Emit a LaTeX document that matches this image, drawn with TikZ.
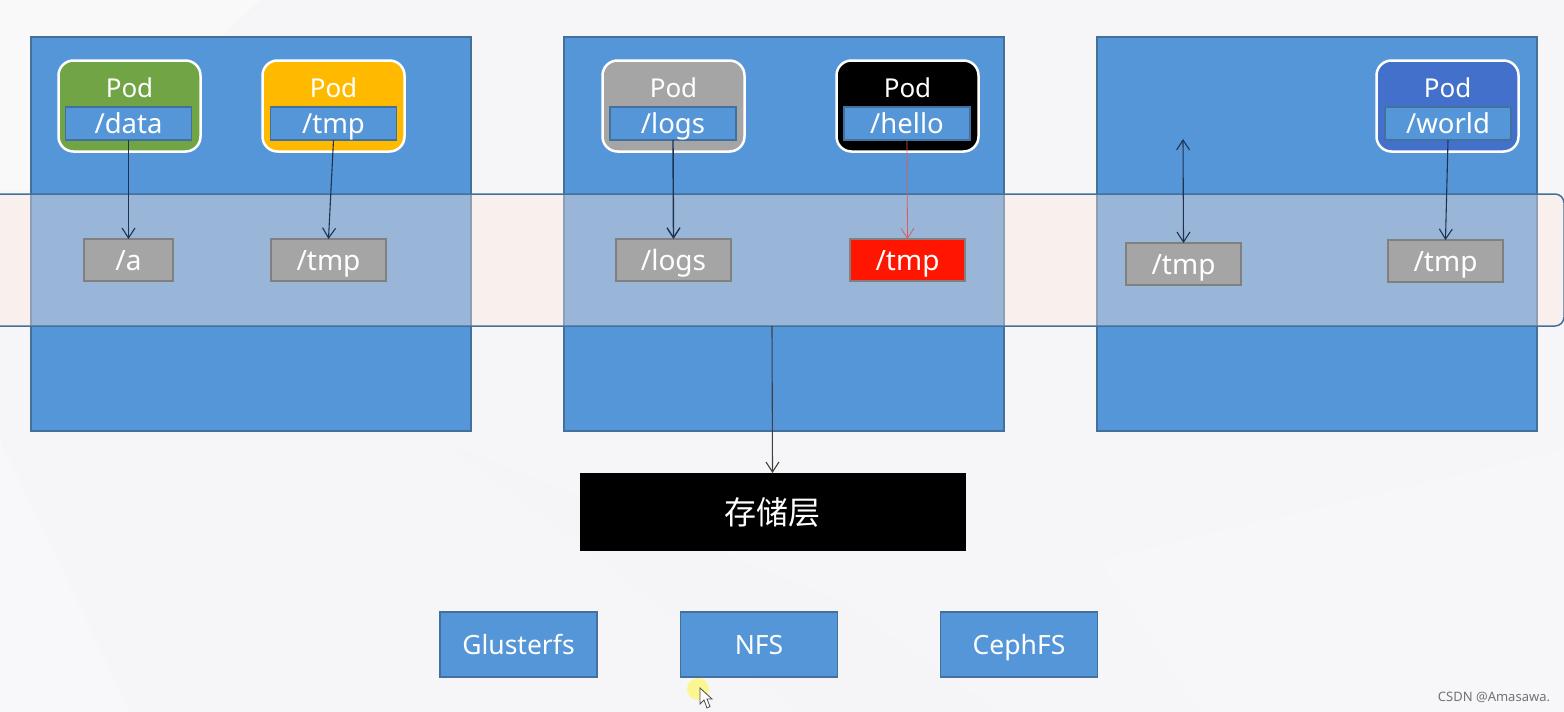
\documentclass[tikz,border=0pt]{standalone}
\usepackage{fontspec}
\setmainfont{Noto Sans}
\newfontfamily\cjk{Noto Sans CJK SC}
\usetikzlibrary{arrows.meta}
\definecolor{pagegray}{HTML}{F6F6F8}
\definecolor{hostblue}{HTML}{5596D8}
\definecolor{edgeblue}{HTML}{41719C}
\definecolor{bandtint}{HTML}{FFE6DA}
\definecolor{volgray}{HTML}{A5A5A5}
\definecolor{volred}{HTML}{FF1500}
\definecolor{podgreen}{HTML}{70A444}
\definecolor{podyellow}{HTML}{FFBA00}
\definecolor{podblue}{HTML}{4270CB}
\definecolor{linkdark}{HTML}{1F3350}
\definecolor{linkred}{HTML}{D9605A}
\begin{document}
\begin{tikzpicture}[x=1pt,y=-1pt,
  every node/.style = {inner sep=0pt, outer sep=0pt, align=center, text=white,
    font=\fontsize{26}{29}\selectfont},
  hostbox/.style = {draw=edgeblue, line width=1.5pt, fill=hostblue,
    minimum width=440pt, minimum height=394pt},
  bandbox/.style = {draw=edgeblue, line width=1.5pt, fill=bandtint, fill opacity=.4,
    draw opacity=1, rounded corners=9pt, minimum width=1584pt, minimum height=132pt},
  podbox/.style = {draw=white, line width=2.5pt, rounded corners=15pt,
    minimum width=142pt, minimum height=91pt},
  mountbox/.style = {draw=edgeblue, line width=1.5pt, fill=hostblue,
    minimum width=126pt, minimum height=33pt, text height=24pt, text depth=4pt,
    font=\fontsize{27.5}{30}\selectfont},
  volbox/.style = {draw=black!50, line width=1.5pt, fill=volgray,
    minimum width=115pt, minimum height=42pt, text height=24pt, text depth=4pt,
    font=\fontsize{28}{30}\selectfont},
  fsbox/.style = {draw=edgeblue, line width=1.5pt, fill=hostblue,
    minimum width=157pt, minimum height=65pt, text height=24pt, text depth=5pt,
    font=\fontsize{26.5}{29}\selectfont},
  link/.style = {draw=linkdark, line width=1.1pt, -{Straight Barb[length=10pt,width=13pt]}},
  ]
  \clip (0,0) rectangle (1564,712);
  \fill[pagegray] (0,0) rectangle (1564,712);
  % faint backdrop facets
  \fill[white,opacity=.4] (0,0) -- (260,0) -- (60,190) -- (0,190) -- cycle;
  \fill[black,opacity=.005] (440,440) -- (800,712) -- (1000,712) -- (840,600) -- cycle;
  \fill[white,opacity=.3] (0,440) -- (130,712) -- (0,712) -- cycle;
  \fill[white,opacity=.2] (1100,560) -- (1564,450) -- (1564,712) -- (1200,712) -- cycle;

  % hosts
  \node[hostbox] (hostA) at (251,234) {};
  \node[hostbox] (hostB) at (784,234) {};
  \node[hostbox] (hostC) at (1317,234) {};

  \node[bandbox] (band) at (772,260) {};

  % pods
  \node[podbox, fill=podgreen] (podA) at (129.5,106) {};
  \node (podAt) at (129.5,88) {Pod};
  \node[mountbox] (data) at (128.5,123.5) {/data};
  \node[podbox, fill=podyellow] (podB) at (333.5,106) {};
  \node (podBt) at (333.5,88) {Pod};
  \node[mountbox] (tmpB) at (333.5,123.5) {/tmp};
  \node[podbox, fill=volgray] (podC) at (673.5,106) {};
  \node (podCt) at (673.5,88) {Pod};
  \node[mountbox] (logs) at (673,123.5) {/logs};
  \node[podbox, fill=black] (podD) at (907.5,106) {};
  \node (podDt) at (907.5,88) {Pod};
  \node[mountbox] (hello) at (907,123.5) {/hello};
  \node[podbox, fill=podblue] (podE) at (1447.5,106) {};
  \node (podEt) at (1447.5,88) {Pod};
  \node[mountbox] (world) at (1448,123.5) {/world};

  % volumes
  \node[volbox, minimum width=89pt] (volA) at (128.5,260) {/a};
  \node[volbox] (volB) at (328.5,260) {/tmp};
  \node[volbox] (volC) at (673.5,260) {/logs};
  \node[volbox, fill=volred] (volD) at (907.5,260) {/tmp};
  \node[volbox] (volE) at (1183.5,264) {/tmp};
  \node[volbox] (volF) at (1445.5,261) {/tmp};
  \coordinate (freeend) at (1183,139);

  % storage
  \node[fill=black, minimum width=386pt, minimum height=78pt,
    font=\cjk\fontsize{32}{36}\selectfont] (store) at (772.5,512) {存储层};
  \node[fsbox] (gluster) at (518.5,644.5) {Glusterfs};
  \node[fsbox] (nfs) at (759,644.5) {NFS};
  \node[fsbox] (ceph) at (1019,644.5) {CephFS};

  \draw[link] (data.south) -- (volA.north);
  \draw[link] (tmpB.south) -- (volB.north);
  \draw[link, line width=1.4pt] (logs.south) -- (volC.north);
  \draw[link, draw=linkred, line width=.8pt] (hello.south) -- (volD.north);
  \draw[link, {Straight Barb[length=10pt,width=13pt]}-{Straight Barb[length=10pt,width=13pt]}] (freeend) -- (volE.north);
  \draw[link] (world.south) -- (volF.north);
  \draw[link, draw=black!75] (band.south) -- (store.north);

  % pointer and watermark
  \fill[yellow!70!white, opacity=.6] (698,689) circle (11);
  \draw[black!70, fill=white, line width=.8pt] (700,688) -- (700,704) -- (704,700) -- (707,708) -- (710,706.5) -- (707,699) -- (712,699) -- cycle;
  \node[text=black!55, font=\fontsize{13}{15}\selectfont] (mark) at (1494,697) {CSDN @Amasawa.};
\end{tikzpicture}
\end{document}
